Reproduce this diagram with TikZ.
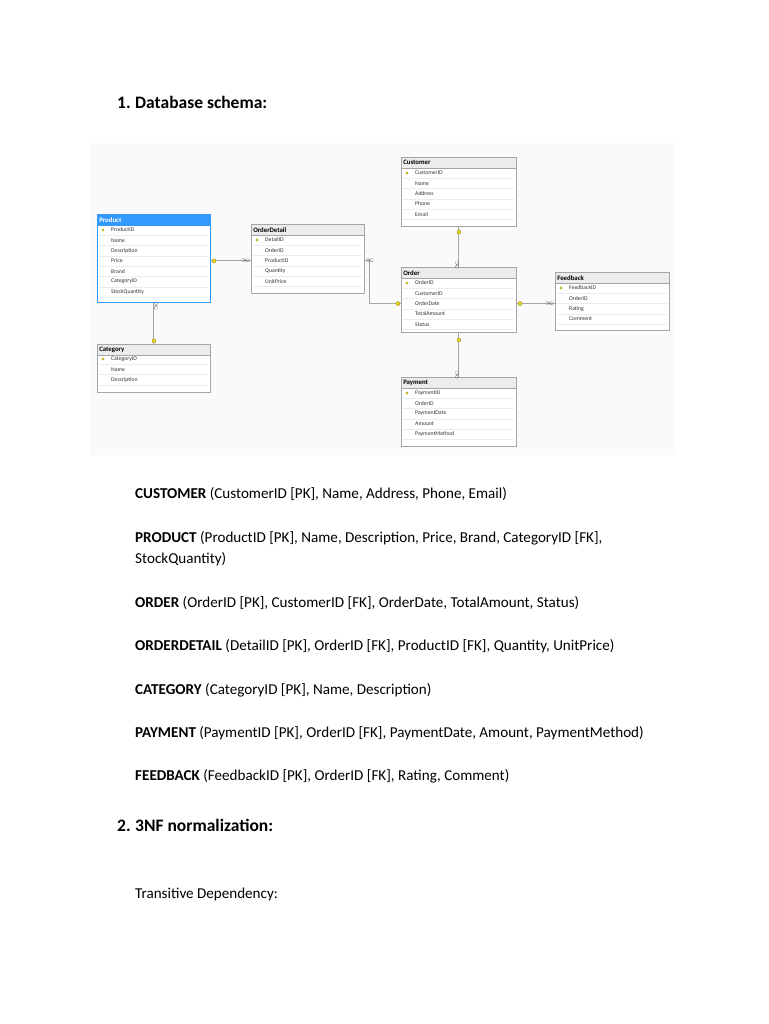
\documentclass[tikz,border=0pt]{standalone}
\usepackage{fontspec}
\setmainfont{Carlito}
\usetikzlibrary{positioning}

\definecolor{selblue}{RGB}{51,153,255}
\definecolor{hdrgray}{RGB}{236,236,236}
\definecolor{tblline}{RGB}{165,165,165}
\definecolor{rowline}{RGB}{236,236,236}
\definecolor{keyyellow}{RGB}{235,220,30}

\tikzset{
  tbl/.style={draw=tblline, line width=0.9pt, fill=white, anchor=north west, inner sep=0},
  hdr/.style={anchor=north west, fill=hdrgray, draw=tblline, line width=0.5pt, inner xsep=2pt, inner ysep=0,
    minimum height=11, align=left, font=\fontsize{6.8}{7}\selectfont\bfseries},
  selhdr/.style={hdr, fill=selblue, draw=selblue, text=white},
  row/.style={anchor=west, inner sep=0, text=black!80, font=\fontsize{5.7}{6}\selectfont},
  rowsep/.style={draw=rowline, line width=0.4pt},
  pkicon/.style={circle, fill=keyyellow, draw=keyyellow!60!black, line width=0.2pt, minimum size=2.6, inner sep=0},
  rel/.style={draw=black!35, line width=1pt},
  pkend/.style={circle, fill=keyyellow, draw=keyyellow!55!black, line width=0.3pt, minimum size=4, inner sep=0},
  many/.style={text=black!60, inner sep=0, font=\fontsize{8}{8}\selectfont},
  body/.style={anchor=base west, inner sep=0, font=\fontsize{15.1}{18}\selectfont},
  heading/.style={anchor=base west, inner sep=0, font=\fontsize{17.5}{20}\selectfont\bfseries}
}

\begin{document}
\begin{tikzpicture}[x=1pt, y=-1pt]
  \useasboundingbox (0,0) rectangle (768,1024);
  \fill[black!2] (90,143) rectangle (675,455);

  % headings
  \node[heading] (h1n) at (117,109) {1.};
  \node[heading] (h1) at (135,109) {Database schema:};

  % tables
  \node[tbl, draw=selblue, minimum width=113, minimum height=88] (product) at (97,214) {};
  \node[selhdr, text width=109] (product-h) at (97,214) {Product};
  \foreach \r [count=\i] in {ProductID,Name,Description,Price,Brand,CategoryID,StockQuantity} {
    \node[row] (product-\i) at (111,{230+10.3*(\i-1)}) {\r};
    \draw[rowsep] (99,{235.2+10.3*(\i-1)}) -- (208,{235.2+10.3*(\i-1)});
  }
  \node[pkicon] (product-k) at (103,230) {};

  \node[tbl, minimum width=113, minimum height=69] (orderdetail) at (251,224) {};
  \node[hdr, text width=109] (orderdetail-h) at (251,224) {OrderDetail};
  \foreach \r [count=\i] in {DetailID,OrderID,ProductID,Quantity,UnitPrice} {
    \node[row] (orderdetail-\i) at (265,{240+10.3*(\i-1)}) {\r};
    \draw[rowsep] (253,{245.2+10.3*(\i-1)}) -- (362,{245.2+10.3*(\i-1)});
  }
  \node[pkicon] (orderdetail-k) at (257,240) {};

  \node[tbl, minimum width=115, minimum height=69] (customer) at (401,157) {};
  \node[hdr, text width=111] (customer-h) at (401,157) {Customer};
  \foreach \r [count=\i] in {CustomerID,Name,Address,Phone,Email} {
    \node[row] (customer-\i) at (415,{173+10.3*(\i-1)}) {\r};
    \draw[rowsep] (403,{178.2+10.3*(\i-1)}) -- (514,{178.2+10.3*(\i-1)});
  }
  \node[pkicon] (customer-k) at (407,173) {};

  \node[tbl, minimum width=115, minimum height=65] (order) at (401,267) {};
  \node[hdr, text width=111] (order-h) at (401,267) {Order};
  \foreach \r [count=\i] in {OrderID,CustomerID,OrderDate,TotalAmount,Status} {
    \node[row] (order-\i) at (415,{283+10.3*(\i-1)}) {\r};
    \draw[rowsep] (403,{288.2+10.3*(\i-1)}) -- (514,{288.2+10.3*(\i-1)});
  }
  \node[pkicon] (order-k) at (407,283) {};

  \node[tbl, minimum width=114, minimum height=58] (feedback) at (555,272) {};
  \node[hdr, text width=110] (feedback-h) at (555,272) {Feedback};
  \foreach \r [count=\i] in {FeedbackID,OrderID,Rating,Comment} {
    \node[row] (feedback-\i) at (569,{288+10.3*(\i-1)}) {\r};
    \draw[rowsep] (557,{293.2+10.3*(\i-1)}) -- (667,{293.2+10.3*(\i-1)});
  }
  \node[pkicon] (feedback-k) at (561,288) {};

  \node[tbl, minimum width=115, minimum height=69] (payment) at (401,377) {};
  \node[hdr, text width=111] (payment-h) at (401,377) {Payment};
  \foreach \r [count=\i] in {PaymentID,OrderID,PaymentDate,Amount,PaymentMethod} {
    \node[row] (payment-\i) at (415,{393+10.3*(\i-1)}) {\r};
    \draw[rowsep] (403,{398.2+10.3*(\i-1)}) -- (514,{398.2+10.3*(\i-1)});
  }
  \node[pkicon] (payment-k) at (407,393) {};

  \node[tbl, minimum width=113, minimum height=48] (category) at (97,344) {};
  \node[hdr, text width=109] (category-h) at (97,344) {Category};
  \foreach \r [count=\i] in {CategoryID,Name,Description} {
    \node[row] (category-\i) at (111,{359+10.3*(\i-1)}) {\r};
    \draw[rowsep] (99,{364.2+10.3*(\i-1)}) -- (208,{364.2+10.3*(\i-1)});
  }
  \node[pkicon] (category-k) at (103,359) {};

  % relationships
  \draw[rel] (product.east |- product-4) -- (orderdetail.west |- product-4);
  \node[pkend, right=1pt of product.east |- product-4] (k1) {};
  \node[many, left=1pt of orderdetail.west |- product-4] (m1) {$\infty$};

  \draw[rel] (orderdetail.east |- orderdetail-3) -- ++(5,0) |- (order.west |- order-3);
  \node[many, right=0.5pt of orderdetail.east |- orderdetail-3] (m2) {$\infty$};
  \node[pkend, left=1pt of order.west |- order-3] (k2) {};

  \draw[rel] (customer.south) -- (order.north);
  \node[pkend, below=3pt of customer.south] (k3) {};
  \node[many, rotate=90, above=2pt of order.north] (m3) {$\infty$};

  \draw[rel] (order.east |- order-3) -- (feedback.west |- order-3);
  \node[pkend, right=1pt of order.east |- order-3] (k4) {};
  \node[many, left=1pt of feedback.west |- order-3] (m4) {$\infty$};

  \draw[rel] (order.south) -- (payment.north);
  \node[pkend, below=5pt of order.south] (k5) {};
  \node[many, rotate=90, above=2pt of payment.north] (m5) {$\infty$};

  \draw[rel] (product.south) -- (category.north);
  \node[many, rotate=90, below=3pt of product.south] (m6) {$\infty$};
  \node[pkend, above=1pt of category.north] (k6) {};

  % relation schema lines
  \node[body] (t1) at (135,498) {\textbf{CUSTOMER} (CustomerID [PK], Name, Address, Phone, Email)};
  \node[body] (t2) at (135,542) {\textbf{PRODUCT} (ProductID [PK], Name, Description, Price, Brand, CategoryID [FK],};
  \node[body] (t2b) at (135,563) {StockQuantity)};
  \node[body] (t3) at (135,607) {\textbf{ORDER} (OrderID [PK], CustomerID [FK], OrderDate, TotalAmount, Status)};
  \node[body] (t4) at (135,650) {\textbf{ORDERDETAIL} (DetailID [PK], OrderID [FK], ProductID [FK], Quantity, UnitPrice)};
  \node[body] (t5) at (135,694) {\textbf{CATEGORY} (CategoryID [PK], Name, Description)};
  \node[body] (t6) at (135,737) {\textbf{PAYMENT} (PaymentID [PK], OrderID [FK], PaymentDate, Amount, PaymentMethod)};
  \node[body] (t7) at (135,780) {\textbf{FEEDBACK} (FeedbackID [PK], OrderID [FK], Rating, Comment)};

  \node[heading] (h2n) at (117,831) {2.};
  \node[heading] (h2) at (135,831) {3NF normalization:};

  \node[body] (t8) at (135,898) {Transitive Dependency:};
\end{tikzpicture}
\end{document}
